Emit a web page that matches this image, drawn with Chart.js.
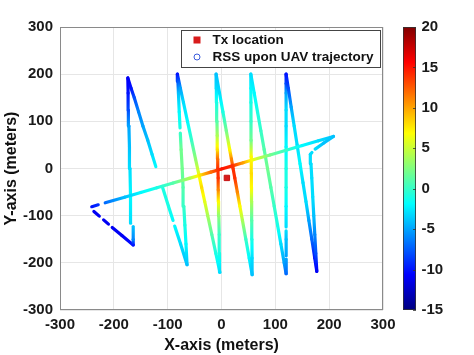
<!DOCTYPE html>
<html><head><meta charset="utf-8">
<script src="https://cdn.jsdelivr.net/npm/chart.js@4/dist/chart.umd.min.js"></script>
<style>html,body{margin:0;padding:0;background:#fff;overflow:hidden}</style>
</head><body>
<canvas id="c" width="474" height="355"></canvas>
<script>
// ---- data ----
const axisMin = -300, axisMax = 300, axisStep = 100;
const rssMin = -15, rssMax = 20, rssStep = 5;
const txLabel = 'Tx location';
const pathLabel = 'RSS upon UAV trajectory';
const xTitle = 'X-axis (meters)';
const yTitle = 'Y-axis (meters)';
const txX = [10];
const txY = [-20];
// UAV trajectory waypoints (null = gap in measurements)
const pathX = [
  -237,-227,null,-219,-210,null,-203,-185,-164,
  -164,-164,null,-168.6,-169,-170,-171,-172,-173,-173.5,-174,
  -168,-162,-154,-146,-137,-129,-122,null,-110,-98.5,-90,null,-87,-76,-64,
  -66,-68,-70,-71.4,-73,-75,-76.5,null,-77,-78.5,-80,-81,-82,
  -76.4,-70.7,-63.2,-55.7,-48.2,-42.5,-36.9,-31.2,-25.6,-18,-10.5,-3,
  -3.7,-4.3,-5,-5.5,-6,-6.2,-6.7,-7,-7.5,-8,-8.4,-9,-9.5,-10,
  -3.7,2.6,8.9,15.2,18.4,21.5,24.7,29.4,34.1,38.9,45.2,51.5,57,
  56.8,56.5,56.2,56,55.7,55.5,55.3,55,54.8,54.7,54.6,54.5,
  60.7,66.9,73.1,79.3,85.5,91.7,97.9,104.1,110.3,116.4,120,
  120.2,null,120.2,120.1,120,null,120,120,120,120,120,120,120,120,120,120,
  124.1,129.5,135,140.5,145.9,151.4,156.9,162.3,167.8,173.2,177,
  175.2,173.3,171.4,169.5,167.7,166.2,165,
  168,null,174,190,208,
  180,150,120,90,60,40,20,0,-20,-40,-60,-90,-120,-150,-180,-216,null,-229,-241
];
const pathY = [
  -91,-101,null,-109,-118,null,-125,-142,-162,
  -150,-123,null,-116,-60,0,46,90,124,160,192,
  170,150,120,90,60,30,4,null,-38,-80,-110,null,-122,-160,-204,
  -160,-120,-80,-40,0,40,75,null,86,120,160,185,200,
  170,140,100,60,20,-10,-40,-70,-100,-140,-180,-220,
  -180,-140,-100,-70,-45,-20,0,20,40,70,100,140,170,200,
  160,120,80,40,20,0,-20,-50,-80,-110,-150,-190,-225,
  -190,-150,-110,-70,-40,-10,25,60,100,140,170,200,
  160,120,80,40,0,-40,-80,-120,-160,-200,-223,
  -192,null,-185,-150,-132,null,-124,-80,-40,0,46,90,124,160,180,200,
  170,130,90,50,10,-30,-70,-110,-150,-190,-218,
  -180,-140,-100,-60,-20,10,30,
  34,null,41,54,68,
  58.7,48.7,38.8,28.8,18.9,12.2,5.6,-1,-7.7,-14.3,-20.9,-30.9,-40.8,-50.8,-60.8,-72.7,null,-77,-81
];
const pathRSS = [
  -11,-11,null,-11,-11,null,-11,-11,-10,
  -6,-4,null,-3,-2,-3,-4,-5,-8,-10,-11,
  -10,-8,-6,-5,-4,-3,-2,null,-1,-1,-2,null,-2,-3,-4,
  -2,-1,0,1,2,2,0,null,-1,-2,-4,-8,-10,
  -5,-3,-2,0,3,6,8,6,4,1,-1,-3,
  -1,0,3,7,11,14,14,12,8,4,1,-1,-3,-4,
  -3,-1,2,7,11,14,14,11,7,4,0,-2,-4,
  -3,-1,1,4,7,8,7,2,0,-1,-2,-3,
  -2,-1,0,1,2,1,0,-1,-3,-5,-7,
  -5,null,-5,-4,-3,null,-3,-2,-1,-1,-2,-3,-3,-5,-8,-10,
  -8,-5,-3,-3,-2,-3,-3,-5,-7,-10,-11,
  -8,-6,-4,-3,-3,-3,-3,
  -3,null,-3,-4,-4,
  -3,-2,0,2,6,10,14,15,12,8,4,1,-1,-2,-4,-7,null,-9,-10
];

// ---- helpers ----
const canvas = document.getElementById('c');
const c2d = canvas.getContext('2d');
function jetRGB(v){
  let t = (v - rssMin) / (rssMax - rssMin);
  t = Math.max(0, Math.min(1, t));
  const cl = a => Math.max(0, Math.min(1, a));
  const r = cl(1.5 - Math.abs(4*t - 3)), g = cl(1.5 - Math.abs(4*t - 2)), b = cl(1.5 - Math.abs(4*t - 1));
  return 'rgb(' + Math.round(r*255) + ',' + Math.round(g*255) + ',' + Math.round(b*255) + ')';
}
function segColor(ctx){
  const v0 = pathRSS[ctx.p0DataIndex], v1 = pathRSS[ctx.p1DataIndex];
  const g = c2d.createLinearGradient(ctx.p0.x, ctx.p0.y, ctx.p1.x, ctx.p1.y);
  for (let k = 0; k <= 4; k++) { const f = k/4; g.addColorStop(f, jetRGB(v0 + (v1 - v0)*f)); }
  return g;
}

const pathData = pathX.map((x, i) => x === null ? {x: null, y: null} : {x: x, y: pathY[i]});
const txData = txX.map((x, i) => ({x: x, y: txY[i]}));

const FONT = 'Liberation Sans, Arial, Helvetica, sans-serif';
Chart.defaults.font.family = FONT;
Chart.defaults.font.weight = 'bold';
Chart.defaults.color = '#1a1a1a';

const boxPlugin = {
  id: 'box',
  beforeDatasetsDraw(chart){
    const {ctx, chartArea: a} = chart;
    ctx.save();
    ctx.strokeStyle = '#8a8a8a';
    ctx.lineWidth = 1;
    ctx.strokeRect(Math.round(a.left) + 0.5, Math.round(a.top) + 0.5, Math.round(a.right - a.left) - 1, Math.round(a.bottom - a.top) - 1);
    ctx.restore();
  }
};

const overlayPlugin = {
  id: 'overlay',
  afterDraw(chart){
    const {ctx, chartArea: a} = chart;
    // colorbar
    const cb = chart.scales.cb;
    const x0 = a.right + 20, w = 13;
    const yTop = cb.getPixelForValue(rssMax), yBot = cb.getPixelForValue(rssMin);
    const g = ctx.createLinearGradient(0, yBot, 0, yTop);
    for (let k = 0; k <= 40; k++) { const f = k/40; g.addColorStop(f, jetRGB(rssMin + (rssMax - rssMin)*f)); }
    ctx.save();
    ctx.fillStyle = g;
    ctx.fillRect(x0, yTop, w, yBot - yTop);
    ctx.strokeStyle = '#333';
    ctx.lineWidth = 0.8;
    ctx.strokeRect(x0 + 0.5, yTop + 0.5, w - 1, yBot - yTop - 1);
    cb.ticks.forEach(t => {
      const y = Math.round(cb.getPixelForValue(t.value)) + 0.5;
      ctx.beginPath(); ctx.moveTo(x0 + w - 3, y); ctx.lineTo(x0 + w, y); ctx.stroke();
    });
    // legend
    const lx1 = a.right - 3, lx0 = lx1 - 199, ly0 = a.top + 3, lh = 37;
    ctx.fillStyle = '#fff';
    ctx.fillRect(lx0, ly0, lx1 - lx0, lh);
    ctx.strokeStyle = '#444';
    ctx.lineWidth = 1;
    ctx.strokeRect(Math.round(lx0) + 0.5, Math.round(ly0) + 0.5, Math.round(lx1 - lx0), lh);
    const ds = chart.data.datasets;
    const r1 = ly0 + 10, r2 = ly0 + 27;
    ctx.fillStyle = '#d81b1b';
    ctx.fillRect(lx0 + 12.5, r1 - 3.5, 7, 7);
    ctx.strokeStyle = '#3a5bdc';
    ctx.lineWidth = 1;
    ctx.beginPath(); ctx.arc(lx0 + 16, r2, 3, 0, Math.PI*2); ctx.stroke();
    ctx.fillStyle = '#111';
    ctx.font = 'bold 13.5px ' + FONT;
    ctx.textBaseline = 'middle';
    ctx.textAlign = 'left';
    ctx.fillText(ds[0].label, lx0 + 31.5, r1);
    ctx.fillText(ds[1].label, lx0 + 31.5, r2);
    ctx.restore();
  }
};

new Chart(canvas, {
  type: 'scatter',
  data: {
    datasets: [
      {
        label: txLabel,
        data: txData,
        pointStyle: 'rect',
        pointRadius: 3.8,
        pointBackgroundColor: '#d81b1b',
        pointBorderColor: '#c41212',
        pointBorderWidth: 1,
        showLine: false
      },
      {
        label: pathLabel,
        data: pathData,
        showLine: true,
        spanGaps: false,
        pointRadius: 0,
        borderWidth: 3.2,
        borderCapStyle: 'round',
        borderJoinStyle: 'round',
        borderColor: '#3a5bdc',
        tension: 0,
        segment: { borderColor: segColor }
      }
    ]
  },
  options: {
    responsive: false,
    devicePixelRatio: 1,
    animation: false,
    events: [],
    layout: { padding: { top: 27, left: 0, right: 0, bottom: 0 } },
    plugins: { legend: { display: false }, tooltip: { enabled: false } },
    scales: {
      x: {
        type: 'linear', min: axisMin, max: axisMax,
        ticks: { stepSize: axisStep, padding: 6, font: { size: 15, weight: 'bold' }, maxRotation: 0 },
        grid: { color: '#e6e6e6', drawTicks: false },
        border: { display: false },
        title: { display: true, text: xTitle, font: { size: 16, weight: 'bold' }, color: '#111', padding: { top: 0, bottom: 0 } },
        afterFit: s => { s.height = 45; }
      },
      y: {
        type: 'linear', position: 'left', min: axisMin, max: axisMax,
        ticks: { stepSize: axisStep, padding: 7, font: { size: 15, weight: 'bold' } },
        grid: { color: '#e6e6e6', drawTicks: false },
        border: { display: false },
        title: { display: true, text: yTitle, font: { size: 16, weight: 'bold' }, color: '#111', padding: { top: 1.5, bottom: 0 } },
        afterFit: s => { s.width = 60; }
      },
      cb: {
        type: 'linear', axis: 'y', position: 'right', min: rssMin, max: rssMax,
        ticks: { stepSize: rssStep, padding: 5.5, font: { size: 15, weight: 'bold' } },
        grid: { drawOnChartArea: false, drawTicks: true, tickLength: 33, color: 'rgba(0,0,0,0)', tickColor: 'rgba(0,0,0,0)' },
        border: { display: false },
        afterFit: s => { s.width = 91; }
      }
    }
  },
  plugins: [boxPlugin, overlayPlugin]
});
</script>
</body></html>
